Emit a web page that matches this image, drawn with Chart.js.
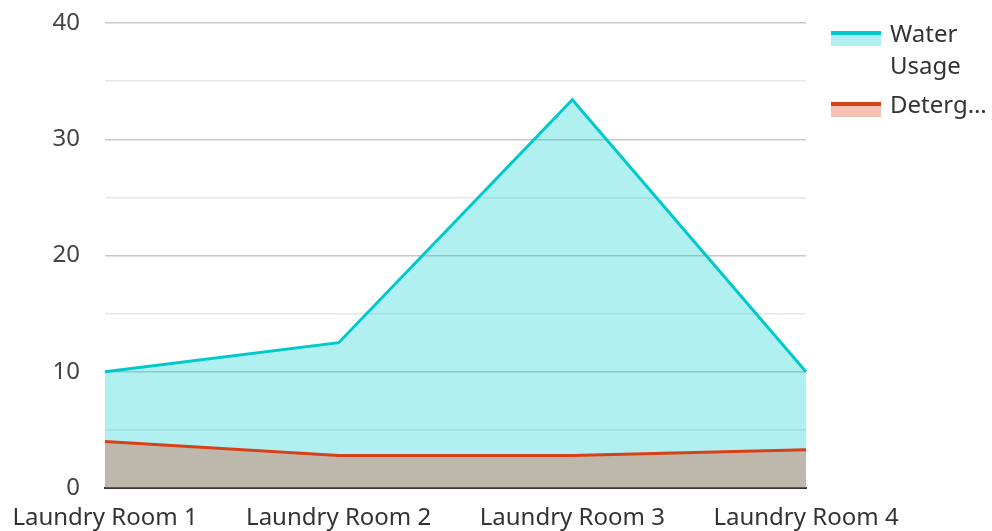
<!DOCTYPE html>
<html>
<head>
<meta charset="utf-8">
<script src="https://cdn.jsdelivr.net/npm/chart.js@4"></script>
<style>
  body { margin: 0; background: #fff; font-family: "Noto Sans", sans-serif; }
  #wrap { position: relative; width: 992px; height: 531px; }
  #legend { position: absolute; left: 831px; top: 17px; color: #333; font-size: 24px; }
  .item { display: flex; align-items: flex-start; margin-bottom: 7px; }
  .sw { width: 50px; height: 15px; margin-top: 14px; margin-right: 9px; box-sizing: border-box; }
  .txt { width: 100px; line-height: 32px; }
  .cut { white-space: nowrap; overflow: hidden; text-overflow: ellipsis; }
</style>
</head>
<body>
<div id="wrap">
  <canvas id="myChart" width="992" height="531"></canvas>
  <div id="legend"></div>
</div>
<script>
'use strict';
let rooms = ['Laundry Room 1', 'Laundry Room 2', 'Laundry Room 3', 'Laundry Room 4'];
let waterUsage = [10, 12.5, 33.4, 10];
let detergentUsage = [4, 2.8, 2.8, 3.3];
let yTicks = [0, 10, 20, 30, 40];

let seriesNames = ['Water Usage', 'Detergent Usage'];
let lineColors = ['#00c9cc', '#d9401a'];
let fillColors = ['rgba(0, 206, 209, 0.31)', 'rgba(217, 64, 26, 0.32)'];

// legend in html so the text wraps / cuts like the picture
let legendEl = document.getElementById('legend');
for (let i = 0; i < seriesNames.length; i++) {
    let item = document.createElement('div');
    item.className = 'item';
    let sw = document.createElement('div');
    sw.className = 'sw';
    sw.style.background = fillColors[i];
    sw.style.borderTop = '4px solid ' + lineColors[i];
    let txt = document.createElement('div');
    txt.className = i === 0 ? 'txt' : 'txt cut';
    txt.textContent = seriesNames[i];
    item.appendChild(sw);
    item.appendChild(txt);
    legendEl.appendChild(item);
}

var ctx = document.getElementById('myChart').getContext('2d');
var myChart = new Chart(ctx, {
    type: 'line',
    data: {
        labels: rooms,
        datasets: [{
            label: seriesNames[0],
            data: waterUsage,
            borderColor: lineColors[0],
            backgroundColor: fillColors[0],
            borderWidth: 3,
            fill: 'origin',
            pointRadius: 0,
            tension: 0,
            order: 1
        }, {
            label: seriesNames[1],
            data: detergentUsage,
            borderColor: lineColors[1],
            backgroundColor: fillColors[1],
            borderWidth: 3,
            fill: 'origin',
            pointRadius: 0,
            tension: 0,
            order: 0
        }]
    },
    options: {
        responsive: false,
        animation: false,
        layout: { padding: { top: 23, right: 186, left: 0, bottom: 0 } },
        plugins: { legend: { display: false }, tooltip: { enabled: false } },
        scales: {
            x: {
                offset: false,
                grid: { display: false },
                border: { color: '#333', width: 2 },
                ticks: {
                    color: '#333',
                    font: { family: 'Noto Sans', size: 24 },
                    maxRotation: 0,
                    autoSkip: false,
                    padding: 8
                },
                afterFit: function (scale) { scale.height = 43; }
            },
            y: {
                min: 0,
                max: 40,
                border: { display: false },
                grid: {
                    drawTicks: false,
                    color: function (c) {
                        if (c.tick.value === 0) return 'rgba(0,0,0,0)';
                        return c.tick.value % 10 === 0 ? '#c8c8c8' : '#e6e6e6';
                    },
                    lineWidth: 1.5
                },
                ticks: {
                    stepSize: 5,
                    color: '#444',
                    padding: 25,
                    font: { family: 'Noto Sans', size: 24 },
                    callback: function (v) { return yTicks.indexOf(v) >= 0 ? v : ''; }
                },
                afterFit: function (scale) {
                    scale.width = 105;
                    scale.paddingTop = 0;
                    scale.paddingBottom = 0;
                }
            }
        }
    }
});
</script>
</body>
</html>
